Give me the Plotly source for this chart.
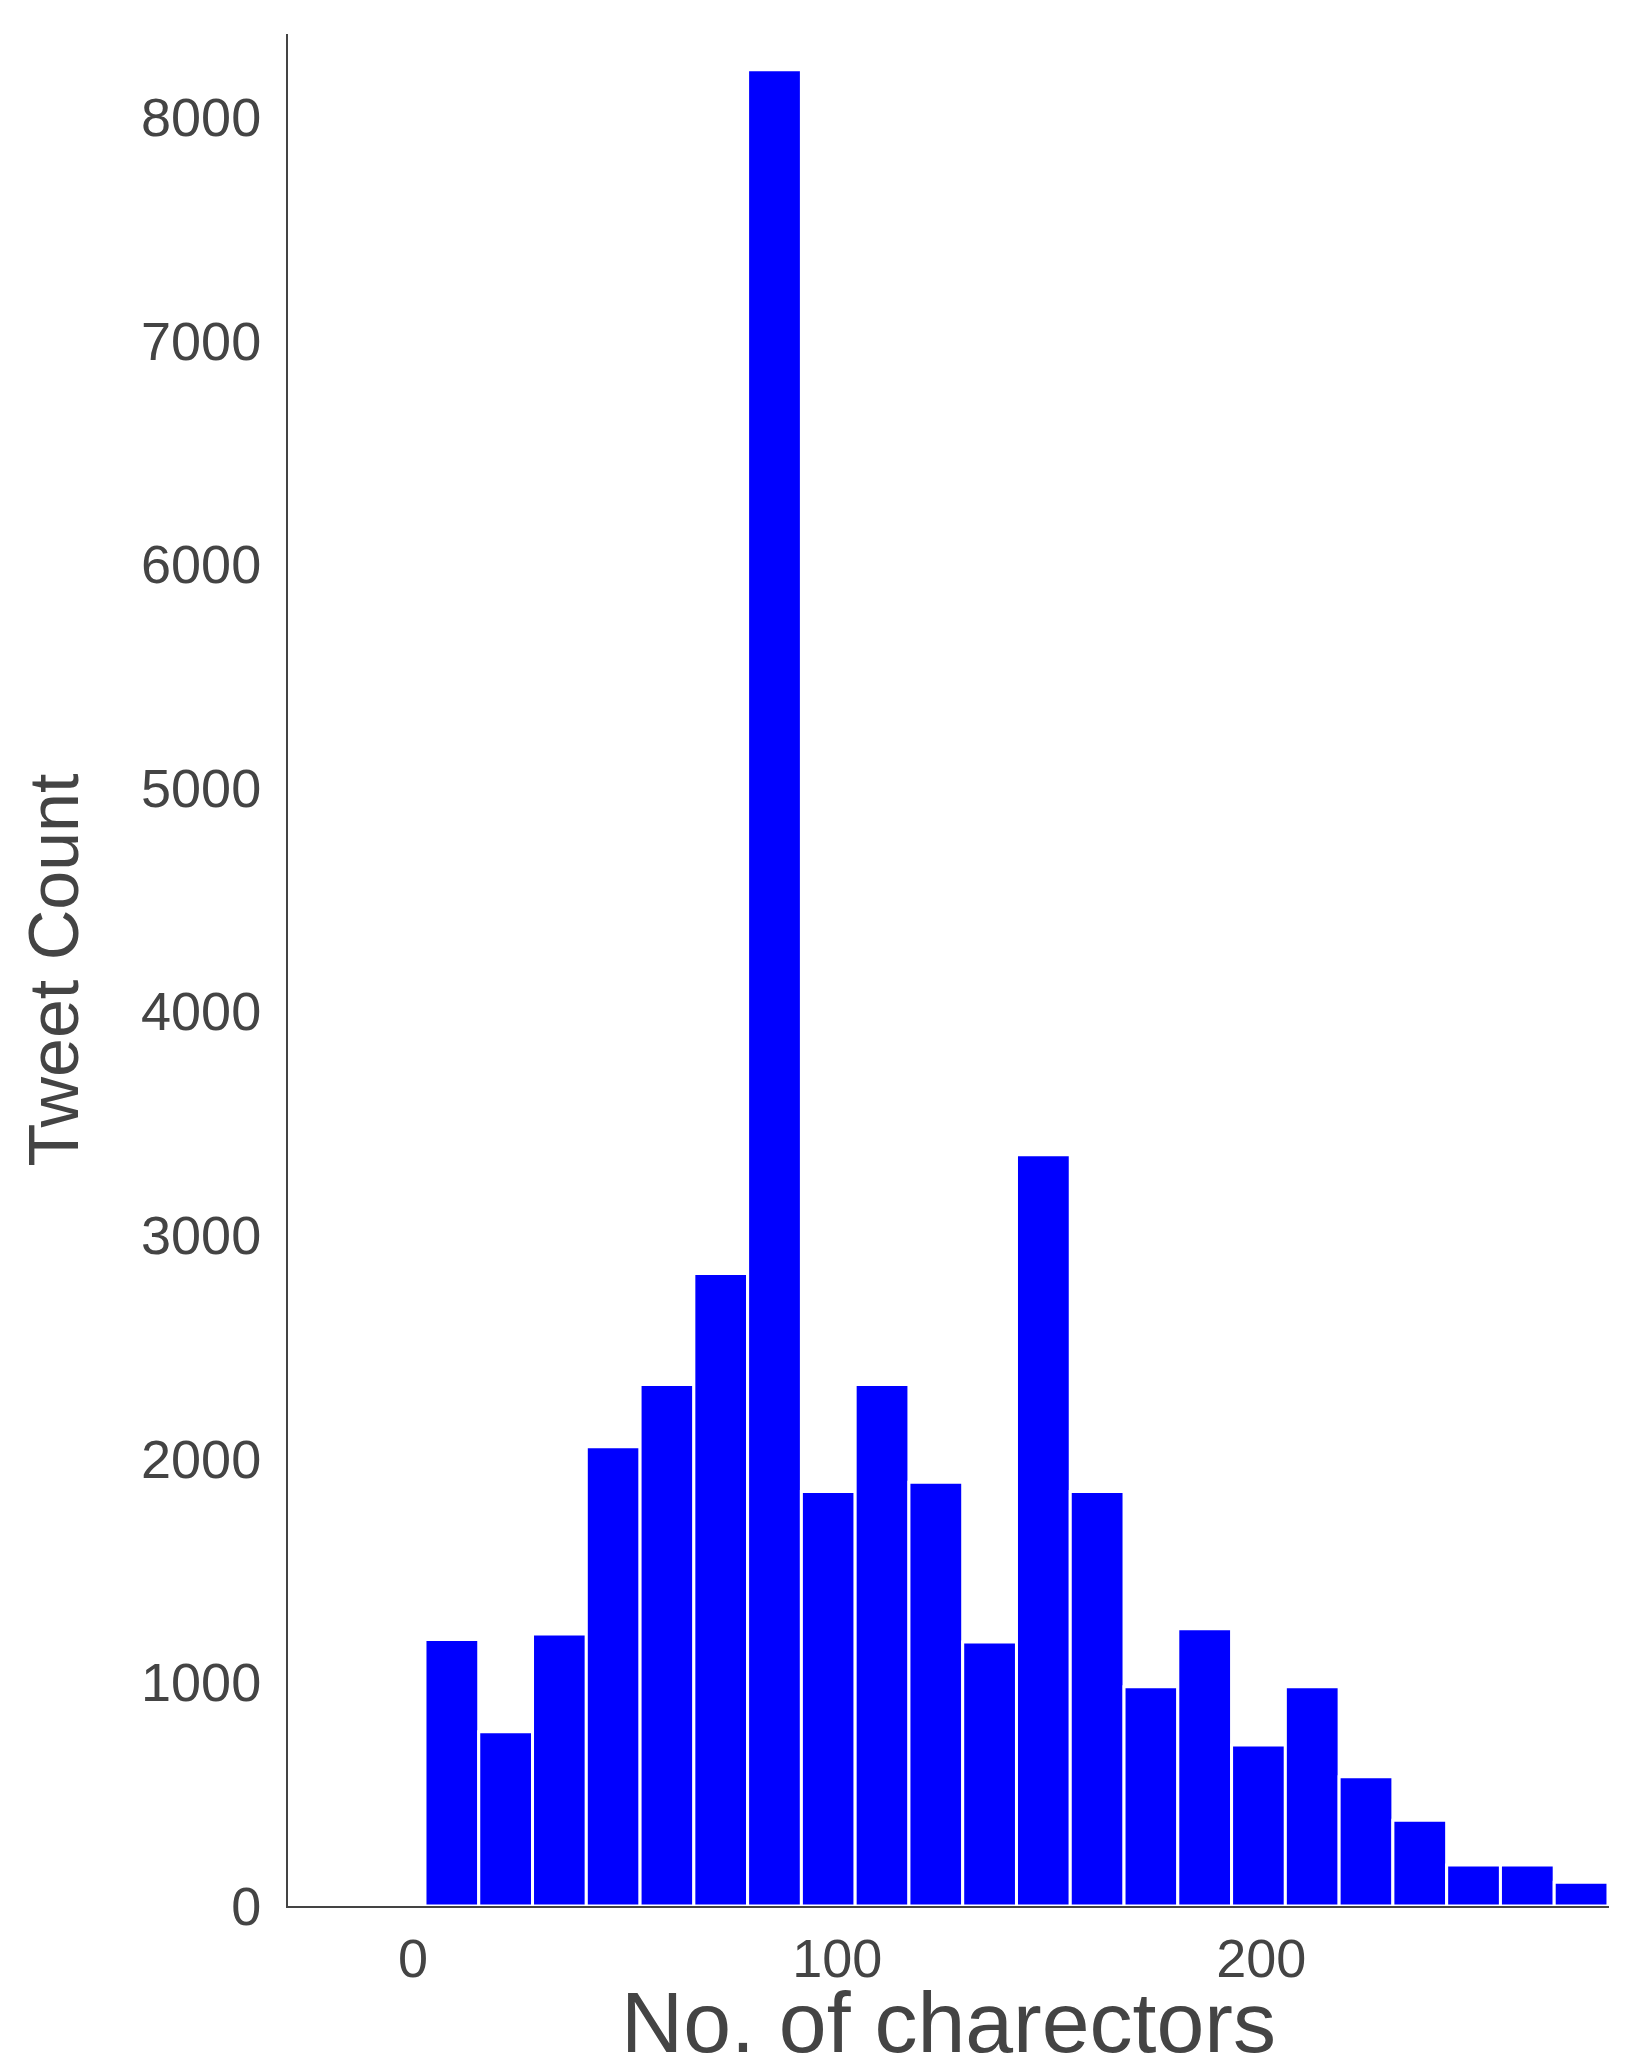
import plotly.graph_objects as go

bin_start = 2.8
bin_width = 12.68
counts = [1192, 779, 1216, 2054, 2332, 2828, 8211, 1854, 2332, 1895, 1180,
          3359, 1854, 980, 1240, 720, 980, 578, 384, 183, 183, 106]
centers = [bin_start + bin_width * (i + 0.5) for i in range(len(counts))]

fig = go.Figure(go.Bar(x=centers, y=counts, width=bin_width,
                       marker=dict(color="#0000ff", line=dict(color="white", width=3))))
fig.update_layout(
    width=1637, height=2062, plot_bgcolor="white", paper_bgcolor="white",
    margin=dict(l=280, r=36, t=26, b=164), showlegend=False,
    font=dict(family="Liberation Sans, Arial", color="#444", size=54),
    xaxis=dict(range=[-29.5, 282], tickvals=[0, 100, 200], showline=True,
               linecolor="#444", linewidth=2, showgrid=False, zeroline=False,
               ticks="outside", tickcolor="white", ticklen=4,
               title=dict(text="No. of charectors", font=dict(size=86), standoff=0)),
    yaxis=dict(range=[0, 8371], tickvals=list(range(0, 9000, 1000)), showline=True,
               linecolor="#444", linewidth=2, showgrid=False, zeroline=False,
               ticks="outside", tickcolor="white", ticklen=14,
               title=dict(text="Tweet Count", font=dict(size=70), standoff=40)),
)
fig.write_html("out.html")
